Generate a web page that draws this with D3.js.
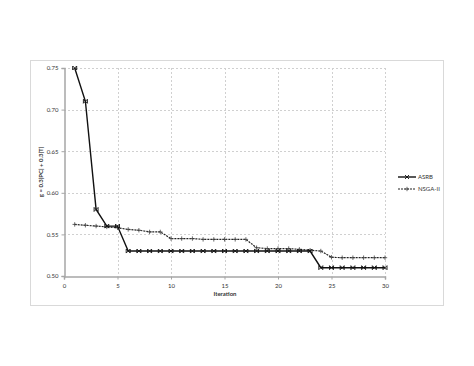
<!DOCTYPE html>
<html><head><meta charset="utf-8">
<script src="https://cdn.jsdelivr.net/npm/d3@7"></script>
<style>body{margin:0;background:#fff}svg{display:block}text{font-family:Lato,"Open Sans",sans-serif}</style>
</head><body><svg width="474" height="366"></svg>
<script>
const iterations = d3.range(1, 31);
const asrb = [0.75,0.71,0.58,0.56,0.56,0.53,0.53,0.53,0.53,0.53,0.53,0.53,0.53,0.53,0.53,0.53,0.53,0.53,0.53,0.53,0.53,0.53,0.53,0.51,0.51,0.51,0.51,0.51,0.51,0.51];
const nsga = [0.562,0.561,0.560,0.559,0.558,0.556,0.555,0.553,0.553,0.545,0.545,0.545,0.544,0.544,0.544,0.544,0.544,0.534,0.533,0.533,0.533,0.532,0.531,0.530,0.5225,0.522,0.522,0.522,0.522,0.522];
const xTicks = [0,5,10,15,20,25,30];
const yTicks = [0.50,0.55,0.60,0.65,0.70,0.75];
const seriesNames = ["ASRB","NSGA-II"];

const svg = d3.select("svg");
svg.append("rect").attr("x",30.5).attr("y",60.5).attr("width",413).attr("height",245)
  .attr("fill","#fff").attr("stroke","#d9d9d9");

const x = d3.scaleLinear().domain([0,30]).range([64,385]);
const y = d3.scaleLinear().domain([0.5,0.75]).range([276,68]);

svg.append("g").selectAll("line").data(xTicks.slice(1)).join("line")
  .attr("x1",d=>Math.round(x(d))+0.5).attr("x2",d=>Math.round(x(d))+0.5)
  .attr("y1",68).attr("y2",276).attr("stroke","#d0d0d0").attr("stroke-dasharray","2,2");
svg.append("g").selectAll("line").data(yTicks.slice(1)).join("line")
  .attr("x1",64).attr("x2",385).attr("y1",d=>Math.round(y(d))+0.5).attr("y2",d=>Math.round(y(d))+0.5)
  .attr("stroke","#d0d0d0").attr("stroke-dasharray","2,2");

const xAxis = svg.append("g").attr("transform","translate(0,276.5)")
  .call(d3.axisBottom(x).tickValues(xTicks).tickSize(3).tickFormat(d3.format("d")));
const yAxis = svg.append("g").attr("transform","translate(64.5,0)")
  .call(d3.axisLeft(y).tickValues(yTicks).tickSize(3).tickFormat(d3.format(".2f")));
[xAxis,yAxis].forEach(a=>{
  a.select(".domain").attr("stroke","#a6a6a6").attr("stroke-width",1.5);
  a.selectAll(".tick line").attr("stroke","#a6a6a6");
  a.selectAll("text").attr("font-size",6).attr("fill","#333").attr("font-family","Lato,sans-serif");
});
xAxis.selectAll("text").attr("dy","0.9em");

svg.append("text").attr("x",225).attr("y",296).attr("text-anchor","middle")
  .attr("font-size",6).attr("font-weight","bold").attr("fill","#333").text("Iteration");
svg.append("text").attr("transform","translate(43,172) rotate(-90)").attr("text-anchor","middle")
  .attr("font-size",6).attr("font-weight","bold").attr("fill","#333").text("g = 0.3|PC| + 0.3|T|");

const line = d3.line().x((d,i)=>x(iterations[i])).y(d=>y(d));

svg.append("path").datum(nsga).attr("d",line).attr("fill","none")
  .attr("stroke","#222").attr("stroke-width",1.2).attr("stroke-dasharray","2,1");
svg.append("g").selectAll("path").data(nsga).join("path")
  .attr("transform",(d,i)=>`translate(${x(iterations[i])},${y(d)})`)
  .attr("d","M-2.2,0H2.2M0,-2.2V2.2").attr("stroke","#444").attr("stroke-width",0.8);

svg.append("path").datum(asrb).attr("d",line).attr("fill","none")
  .attr("stroke","#111").attr("stroke-width",1.4);
svg.append("g").selectAll("path").data(asrb).join("path")
  .attr("transform",(d,i)=>`translate(${x(iterations[i])},${y(d)})`)
  .attr("d","M-2,-2L2,2M-2,2L2,-2M-2,-2V2M2,-2V2").attr("stroke","#111").attr("stroke-width",0.9);

const lg = svg.append("g");
seriesNames.forEach((n,i)=>{
  const yy = 177 + i*12;
  if(i===0){
    lg.append("line").attr("x1",398).attr("x2",416).attr("y1",yy).attr("y2",yy).attr("stroke","#111").attr("stroke-width",1.4);
    lg.append("path").attr("transform",`translate(407,${yy})`).attr("d","M-2,-2L2,2M-2,2L2,-2").attr("stroke","#111").attr("stroke-width",0.9);
  } else {
    lg.append("line").attr("x1",398).attr("x2",416).attr("y1",yy).attr("y2",yy).attr("stroke","#222").attr("stroke-width",1.2).attr("stroke-dasharray","2,1");
    lg.append("path").attr("transform",`translate(407,${yy})`).attr("d","M-2.2,0H2.2M0,-2.2V2.2").attr("stroke","#444").attr("stroke-width",0.8);
  }
  lg.append("text").attr("x",418).attr("y",yy).attr("dy","0.35em").attr("font-size",6).attr("fill","#333").text(n);
});
</script></body></html>
